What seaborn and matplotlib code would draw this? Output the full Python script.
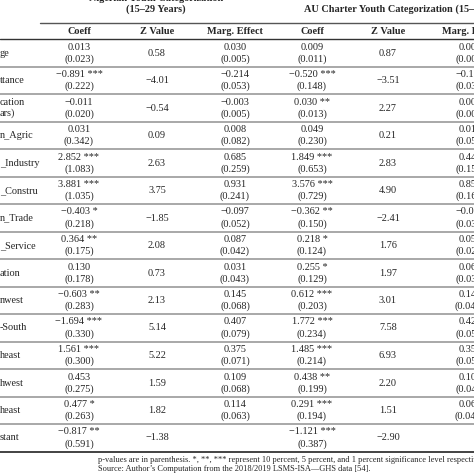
import matplotlib
matplotlib.use("Agg")
import matplotlib.pyplot as plt
import seaborn as sns

sns.set_theme(style="white")
plt.rcParams['font.family'] = ['Liberation Serif', 'DejaVu Serif']

# --- dados da tabela ---
labels = ["ge", "ttance", "cation\nars)", "n_Agric", "_Industry", "_Constru", "n_Trade",
          "_Service", "ation", "nwest", "-South", "heast", "hwest", "heast", "stant"]
coef1 = ["0.013", "\u22120.891 ***", "\u22120.011", "0.031", "2.852 ***", "3.881 ***", "\u22120.403 *",
         "0.364 **", "0.130", "\u22120.603 **", "\u22121.694 ***", "1.561 ***", "0.453", "0.477 *", "\u22120.817 **"]
se1 = ["0.023", "0.222", "0.020", "0.342", "1.083", "1.035", "0.218",
       "0.175", "0.178", "0.283", "0.330", "0.300", "0.275", "0.263", "0.591"]
z1 = ["0.58", "\u22124.01", "\u22120.54", "0.09", "2.63", "3.75", "\u22121.85",
      "2.08", "0.73", "2.13", "5.14", "5.22", "1.59", "1.82", "\u22121.38"]
marg1 = ["0.030", "\u22120.214", "\u22120.003", "0.008", "0.685", "0.931", "\u22120.097",
         "0.087", "0.031", "0.145", "0.407", "0.375", "0.109", "0.114", ""]
margse1 = ["0.005", "0.053", "0.005", "0.082", "0.259", "0.241", "0.052",
           "0.042", "0.043", "0.068", "0.079", "0.071", "0.068", "0.063", ""]
coef2 = ["0.009", "\u22120.520 ***", "0.030 **", "0.049", "1.849 ***", "3.576 ***", "\u22120.362 **",
         "0.218 *", "0.255 *", "0.612 ***", "1.772 ***", "1.485 ***", "0.438 **", "0.291 ***", "\u22121.121 ***"]
se2 = ["0.011", "0.148", "0.013", "0.230", "0.653", "0.729", "0.150",
       "0.124", "0.129", "0.203", "0.234", "0.214", "0.199", "0.194", "0.387"]
z2 = ["0.87", "\u22123.51", "2.27", "0.21", "2.83", "4.90", "\u22122.41",
      "1.76", "1.97", "3.01", "7.58", "6.93", "2.20", "1.51", "\u22122.90"]
marg2 = ["0.002", "\u22120.124", "0.007", "0.012", "0.441", "0.852", "\u22120.086",
         "0.052", "0.061", "0.146", "0.422", "0.354", "0.104", "0.069", ""]
margse2 = ["0.003", "0.035", "0.003", "0.055", "0.155", "0.169", "0.036",
           "0.029", "0.031", "0.048", "0.055", "0.051", "0.047", "0.046", ""]
headers = ["Coeff", "Z Value", "Marg. Effect", "Coeff", "Z Value", "Marg. Effect"]

fig = plt.figure(figsize=(4.74, 4.74), dpi=100)
ax = fig.add_axes([0, 0, 1, 1])
ax.set_xlim(0, 474)
ax.set_ylim(474, 0)
ax.axis("off")

fs = 7.4
col_x = [79, 157, 235, 312, 388, 470]

ax.text(156, 4, "Nigerian Youth Categorization\n(15\u201329 Years)", ha="center", va="center",
        fontsize=fs, fontweight="bold", linespacing=1.15)
ax.text(410, 9, "AU Charter Youth Categorization (15\u201335 Years)", ha="center", va="center",
        fontsize=fs, fontweight="bold")
ax.plot([40, 474], [23, 23], color="#555555", lw=1.0)
for x, h in zip(col_x, headers):
    ax.text(x, 31, h, ha="center", va="center", fontsize=fs, fontweight="bold")
ax.plot([0, 474], [39, 39], color="#333333", lw=1.0)

row_h = 27.5
for i in range(len(labels)):
    yc = 53 + i * row_h
    ax.text(0, yc, labels[i], ha="left", va="center", fontsize=fs, linespacing=1.25)
    cols = [(coef1[i], se1[i]), (z1[i], None), (marg1[i], margse1[i]),
            (coef2[i], se2[i]), (z2[i], None), (marg2[i], margse2[i])]
    for x, (top, bot) in zip(col_x, cols):
        if bot is None:
            ax.text(x, yc, top, ha="center", va="center", fontsize=fs)
        elif top:
            ax.text(x, yc - 6, top, ha="center", va="center", fontsize=fs)
            ax.text(x, yc + 6, "(" + bot + ")", ha="center", va="center", fontsize=fs)
    if i < len(labels) - 1:
        ax.plot([0, 474], [yc + row_h / 2, yc + row_h / 2], color="#9a9a9a", lw=1.2)

ax.plot([0, 474], [452, 452], color="#222222", lw=1.2)
ax.text(98, 460, "p-values are in parenthesis. *, **, *** represent 10 percent, 5 percent, and 1 percent significance level respectively.",
        ha="left", va="center", fontsize=6.0)
ax.text(98, 469, "Source: Author\u2019s Computation from the 2018/2019 LSMS-ISA\u2014GHS data [54].",
        ha="left", va="center", fontsize=6.0)

fig.savefig("out.png", dpi=100, facecolor="white")
